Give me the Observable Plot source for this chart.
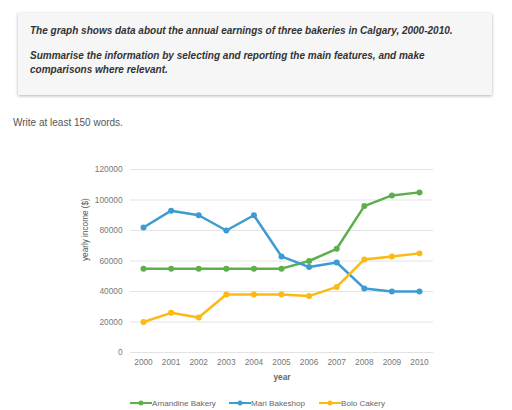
<!DOCTYPE html>
<html><head><meta charset="utf-8">
<script src="https://cdn.jsdelivr.net/npm/d3@7"></script>
<script src="https://cdn.jsdelivr.net/npm/@observablehq/plot@0.6"></script>
<style>
body{margin:0;background:#fff;width:512px;height:410px;overflow:hidden;position:relative;font-family:"Liberation Sans",Arial,sans-serif;}
#box{position:absolute;left:18px;top:13px;width:474px;height:82px;background:#f6f6f6;box-shadow:0 1px 3px rgba(0,0,0,0.3);box-sizing:border-box;}
#box p{margin:0;position:absolute;left:12px;font-weight:bold;font-style:italic;font-size:10px;color:#333;line-height:14px;white-space:nowrap;}
#write{position:absolute;left:13px;top:117px;font-size:10px;color:#555;}
#chart{position:absolute;left:0;top:155px;}
#legend{position:absolute;top:398px;left:0;width:512px;font-size:8.1px;color:#666;}
#legend span.item{position:absolute;top:0;display:flex;align-items:center;}
</style></head>
<body>
<div id="box">
<p style="top:11px">The graph shows data about the annual earnings of three bakeries in Calgary, 2000-2010.</p>
<p style="top:36px">Summarise the information by selecting and reporting the main features, and make<br>comparisons where relevant.</p>
</div>
<div id="write">Write at least 150 words.</div>
<div id="chart"></div>
<div id="legend"></div>
<script>
const years = [2000,2001,2002,2003,2004,2005,2006,2007,2008,2009,2010];
const amandine = [55000,55000,55000,55000,55000,55000,60000,68000,96000,103000,105000];
const mari = [82000,93000,90000,80000,90000,63000,56000,59000,42000,40000,40000];
const bolo = [20000,26000,23000,38000,38000,38000,37000,43000,61000,63000,65000];
const seriesNames = ["Amandine Bakery","Mari Bakeshop","Bolo Cakery"];
const seriesColors = ["#5fae4c","#3d9bd4","#fdb913"];
const yTicks = [0,20000,40000,60000,80000,100000,120000];

const seriesValues = [amandine, mari, bolo];
const data = [];
seriesNames.forEach((name, i) => {
  years.forEach((yr, j) => data.push({series: name, year: yr, value: seriesValues[i][j]}));
});

const chart = Plot.plot({
  width: 512,
  height: 230,
  marginLeft: 130,
  marginRight: 79,
  marginTop: 14,
  marginBottom: 33,
  insetLeft: 13,
  insetRight: 14,
  style: {fontFamily: '"Liberation Sans", Arial, sans-serif', background: "transparent"},
  x: {domain: [2000, 2010], ticks: years, tickFormat: d => String(d), label: null},
  y: {domain: [0, 120000], ticks: yTicks, tickFormat: d => String(d), label: null},
  color: {domain: seriesNames, range: seriesColors},
  marks: [
    Plot.ruleY(yTicks, {stroke: "#e3e3e3", strokeWidth: 1}),
    Plot.axisY({ticks: yTicks, tickSize: 0, tickPadding: 8, fontSize: 8.3, fill: "#777", tickFormat: d => String(d), label: null}),
    Plot.axisX({ticks: years, tickSize: 0, tickPadding: 7, fontSize: 8.3, fill: "#777", tickFormat: d => String(d), label: null}),
    Plot.line(data, {x: "year", y: "value", z: "series", stroke: "series", strokeWidth: 2.5}),
    Plot.dot(data, {x: "year", y: "value", fill: "series", r: 3}),
    Plot.text(["year"], {frameAnchor: "bottom", dy: 27, text: d => d, fontSize: 8.3, fontWeight: "bold", fill: "#666"}),
    Plot.text(["yearly income ($)"], {frameAnchor: "left", dx: -45, rotate: -90, text: d => d, fontSize: 8.2, fill: "#555"})
  ]
});
document.getElementById("chart").appendChild(chart);

const legend = document.getElementById("legend");
const legendX = [130, 229, 319];
seriesNames.forEach((name, i) => {
  const s = document.createElement("span");
  s.className = "item";
  s.style.left = legendX[i] + "px";
  s.innerHTML = `<svg width="22" height="10"><line x1="0" y1="5" x2="22" y2="5" stroke="${seriesColors[i]}" stroke-width="2"/><circle cx="11" cy="5" r="2.5" fill="${seriesColors[i]}"/></svg><span>${name}</span>`;
  legend.appendChild(s);
});
</script>
</body></html>
